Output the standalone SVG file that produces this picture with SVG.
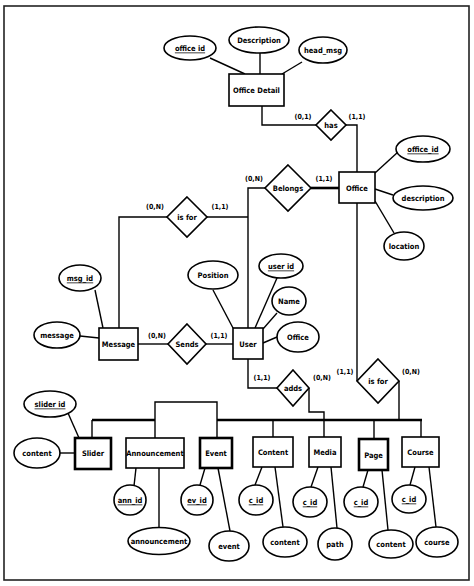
<svg xmlns="http://www.w3.org/2000/svg" width="474" height="586" viewBox="0 0 474 586">
<style>
.e{fill:#fff;stroke:#000;stroke-width:1.6}
.b{fill:#fff;stroke:#000;stroke-width:1.6}
.bb{fill:#fff;stroke:#000;stroke-width:2.6}
.d{fill:#fff;stroke:#000;stroke-width:1.6}
.c{fill:none;stroke:#000;stroke-width:1.4}
.ct{fill:none;stroke:#000;stroke-width:2.6}
text{font-family:"DejaVu Sans Condensed","DejaVu Sans",sans-serif;font-size:7.5px;font-weight:bold;fill:#000;text-anchor:middle;dominant-baseline:central}
.u{text-decoration:underline}
.l{font-size:7px}
</style>
<rect x="0" y="0" width="474" height="586" fill="#fff"/>
<rect x="4" y="6" width="465" height="574" fill="none" stroke="#222" stroke-width="1.6"/>
<g id="connectors">
<!-- office detail attrs -->
<line class="c" x1="210" y1="58" x2="245" y2="74"/>
<line class="c" x1="260" y1="53" x2="260" y2="74"/>
<line class="c" x1="302" y1="62" x2="282" y2="74"/>
<polyline class="c" points="262,106 262,125 316,125"/>
<polyline class="c" points="346,125 357,125 357,172"/>
<line class="c" x1="357" y1="203" x2="357" y2="381"/>
<!-- office attrs -->
<line class="c" x1="375" y1="173" x2="398" y2="152"/>
<line class="c" x1="375" y1="189" x2="393" y2="195"/>
<line class="c" x1="375" y1="201" x2="394" y2="233"/>
<!-- belongs -->
<line class="ct" x1="311" y1="188" x2="339" y2="188"/>
<polyline class="c" points="265,188 248,188 248,328"/>
<!-- is for upper -->
<polyline class="c" points="167,217 119,217 119,328"/>
<line class="c" x1="207" y1="217" x2="248" y2="217"/>
<!-- message attrs -->
<line class="c" x1="95" y1="290" x2="103" y2="328"/>
<line class="c" x1="80" y1="336" x2="99" y2="338"/>
<!-- sends -->
<line class="c" x1="138" y1="344" x2="168" y2="344"/>
<line class="c" x1="206" y1="344" x2="233" y2="344"/>
<!-- user attrs -->
<line class="c" x1="213" y1="290" x2="233" y2="328"/>
<line class="c" x1="277" y1="278" x2="255" y2="328"/>
<line class="c" x1="277" y1="313" x2="263" y2="329"/>
<line class="c" x1="277" y1="337" x2="263" y2="343"/>
<!-- adds -->
<polyline class="c" points="248,359 248,388 277,388"/>
<polyline class="c" points="309,388 309,412 324,412 324,437"/>
<!-- is for lower -->
<polyline class="c" points="399,381 399,420"/>
<!-- bus -->
<line class="ct" x1="92" y1="420" x2="155" y2="420"/>
<polyline class="c" points="155,438 155,402 217,402 217,438"/>
<line class="ct" x1="217" y1="420" x2="422" y2="420"/>
<line class="c" x1="92" y1="420" x2="92" y2="438"/>
<line class="c" x1="273" y1="420" x2="273" y2="437"/>
<line class="c" x1="374" y1="420" x2="374" y2="439"/>
<line class="c" x1="421" y1="420" x2="421" y2="437"/>
<!-- bottom attrs -->
<line class="c" x1="68" y1="413" x2="79" y2="438"/>
<line class="c" x1="59" y1="453" x2="75" y2="453"/>
<line class="c" x1="136" y1="468" x2="134" y2="486"/>
<line class="c" x1="159" y1="468" x2="159" y2="528"/>
<line class="c" x1="205" y1="468" x2="200" y2="485"/>
<line class="c" x1="218" y1="468" x2="230" y2="531"/>
<line class="c" x1="262" y1="467" x2="255" y2="485"/>
<line class="c" x1="275" y1="467" x2="283" y2="527"/>
<line class="c" x1="318" y1="467" x2="311" y2="487"/>
<line class="c" x1="331" y1="467" x2="337" y2="528"/>
<line class="c" x1="368" y1="470" x2="363" y2="487"/>
<line class="c" x1="382" y1="470" x2="388" y2="530"/>
<line class="c" x1="415" y1="467" x2="410" y2="485"/>
<line class="c" x1="429" y1="467" x2="436" y2="527"/>
<!-- cardinalities -->
<text class="l" x="303" y="117">(0,1)</text>
<text class="l" x="357" y="117">(1,1)</text>
<text class="l" x="254" y="179">(0,N)</text>
<text class="l" x="324" y="179">(1,1)</text>
<text class="l" x="155" y="207">(0,N)</text>
<text class="l" x="220" y="207">(1,1)</text>
<text class="l" x="157" y="336">(0,N)</text>
<text class="l" x="219" y="336">(1,1)</text>
<text class="l" x="262" y="378">(1,1)</text>
<text class="l" x="322" y="378">(0,N)</text>
<text class="l" x="345" y="372">(1,1)</text>
<text class="l" x="411" y="372">(0,N)</text>
</g>
<g id="office_detail"><rect class="b" x="229" y="74" width="55" height="32"/><text x="256.5" y="90">Office Detail</text></g>
<g id="od_office_id"><ellipse class="e" cx="190" cy="48" rx="26" ry="12"/><text class="u" x="190" y="48">office id</text></g>
<g id="od_description"><ellipse class="e" cx="259" cy="40" rx="30" ry="13"/><text x="259" y="40">Description</text></g>
<g id="od_head_msg"><ellipse class="e" cx="323" cy="50" rx="24" ry="13"/><text x="323" y="50">head_msg</text></g>
<g id="has"><polygon class="d" points="331,110 346,125 331,140 316,125"/><text x="331" y="125">has</text></g>
<g id="office"><rect class="b" x="339" y="172" width="36" height="31"/><text x="357" y="188">Office</text></g>
<g id="o_office_id"><ellipse class="e" cx="423" cy="149" rx="27" ry="13"/><text class="u" x="423" y="149">office_id</text></g>
<g id="o_description"><ellipse class="e" cx="423" cy="198" rx="30" ry="12"/><text x="423" y="198">description</text></g>
<g id="o_location"><ellipse class="e" cx="404" cy="246" rx="20" ry="14"/><text x="404" y="246">location</text></g>
<g id="belongs"><polygon class="d" points="288,165 311,188 288,211 265,188"/><text x="288" y="188">Belongs</text></g>
<g id="is_for_1"><polygon class="d" points="187,197 207,217 187,237 167,217"/><text x="187" y="217">is for</text></g>
<g id="message"><rect class="b" x="99" y="328" width="39" height="32"/><text x="118.5" y="344">Message</text></g>
<g id="msg_id"><ellipse class="e" cx="80" cy="278" rx="21" ry="13"/><text class="u" x="80" y="278">msg_id</text></g>
<g id="message_attr"><ellipse class="e" cx="57" cy="335" rx="23" ry="13"/><text x="57" y="335">message</text></g>
<g id="sends"><polygon class="d" points="187,324 206,344 187,364 168,344"/><text x="187" y="344">Sends</text></g>
<g id="user"><rect class="b" x="233" y="328" width="30" height="31"/><text x="248" y="344">User</text></g>
<g id="position"><ellipse class="e" cx="213" cy="275" rx="25" ry="14"/><text x="213" y="275">Position</text></g>
<g id="user_id"><ellipse class="e" cx="281" cy="266" rx="22" ry="12"/><text class="u" x="281" y="266">user id</text></g>
<g id="name"><ellipse class="e" cx="289" cy="301" rx="17" ry="14"/><text x="289" y="301">Name</text></g>
<g id="user_office"><ellipse class="e" cx="298" cy="337" rx="21" ry="15"/><text x="298" y="337">Office</text></g>
<g id="adds"><polygon class="d" points="293,370 309,388 293,406 277,388"/><text x="293" y="388">adds</text></g>
<g id="is_for_2"><polygon class="d" points="378,359 399,381 378,403 357,381"/><text x="378" y="381">is for</text></g>
<g id="slider"><rect class="bb" x="75" y="438" width="36" height="31"/><text x="93" y="453">Slider</text></g>
<g id="slider_id"><ellipse class="e" cx="50" cy="404" rx="26" ry="13"/><text class="u" x="50" y="404">slider id</text></g>
<g id="slider_content"><ellipse class="e" cx="37" cy="453" rx="23" ry="15"/><text x="37" y="453">content</text></g>
<g id="announcement"><rect class="b" x="126" y="438" width="58" height="30"/><text x="155" y="453">Announcement</text></g>
<g id="ann_id"><ellipse class="e" cx="130" cy="500" rx="16" ry="15"/><text class="u" x="130" y="500">ann_id</text></g>
<g id="ann_text"><ellipse class="e" cx="159" cy="541" rx="31" ry="13.5"/><text x="159" y="541">announcement</text></g>
<g id="event"><rect class="bb" x="200" y="438" width="32" height="30"/><text x="216" y="453">Event</text></g>
<g id="ev_id"><ellipse class="e" cx="197" cy="500" rx="16" ry="15"/><text class="u" x="197" y="500">ev_id</text></g>
<g id="event_attr"><ellipse class="e" cx="229" cy="546" rx="20" ry="15"/><text x="229" y="546">event</text></g>
<g id="content"><rect class="b" x="253" y="437" width="40" height="30"/><text x="273" y="452">Content</text></g>
<g id="content_c_id"><ellipse class="e" cx="256" cy="500" rx="17" ry="15"/><text class="u" x="256" y="500">c_id</text></g>
<g id="content_attr"><ellipse class="e" cx="285" cy="542" rx="22" ry="15"/><text x="285" y="542">content</text></g>
<g id="media"><rect class="b" x="309" y="437" width="32" height="30"/><text x="325" y="452">Media</text></g>
<g id="media_c_id"><ellipse class="e" cx="310" cy="502" rx="17" ry="15"/><text class="u" x="310" y="502">c_id</text></g>
<g id="media_path"><ellipse class="e" cx="335" cy="544" rx="17" ry="16"/><text x="335" y="544">path</text></g>
<g id="page"><rect class="bb" x="359" y="439" width="29" height="31"/><text x="373.5" y="455">Page</text></g>
<g id="page_c_id"><ellipse class="e" cx="361" cy="502" rx="17" ry="15"/><text class="u" x="361" y="502">c_id</text></g>
<g id="page_content"><ellipse class="e" cx="391" cy="544" rx="22" ry="14"/><text x="391" y="544">content</text></g>
<g id="course"><rect class="b" x="402" y="437" width="37" height="30"/><text x="420.5" y="452">Course</text></g>
<g id="course_c_id"><ellipse class="e" cx="409" cy="499" rx="17" ry="14"/><text class="u" x="409" y="499">c_id</text></g>
<g id="course_attr"><ellipse class="e" cx="437" cy="542" rx="21" ry="15"/><text x="437" y="542">course</text></g>
</svg>
